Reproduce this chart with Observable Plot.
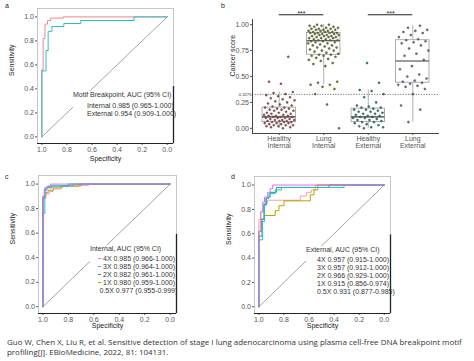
<!DOCTYPE html>
<html><head><meta charset="utf-8">
<script src="https://cdn.jsdelivr.net/npm/d3@7"></script>
<script src="https://cdn.jsdelivr.net/npm/@observablehq/plot@0.6"></script>
<style>
body{margin:0;background:#fff;}
#root{position:relative;width:474px;height:361px;overflow:hidden;font-family:"Liberation Sans",Arial,sans-serif;background:#fff;}
.panel{position:absolute;}
.panel svg{overflow:visible;}
.plab{position:absolute;font-size:7px;color:#222;line-height:7px;}
.legend{position:absolute;background:#fff;font-size:7px;color:#333;overflow:visible;white-space:nowrap;}
.legend .row{display:flex;align-items:center;}
.legend .key{display:inline-block;height:0;border-top:1.3px solid;}
.caption{position:absolute;left:7px;top:337px;font-family:"Open Sans",sans-serif;color:#333;line-height:10px;white-space:nowrap;}
</style></head>
<body><div id="root"></div>
<script>
// ---------- DATA ----------
const specTicks = [1, 0.8, 0.6, 0.4, 0.2, 0];
const sensTicks = [0, 0.2, 0.4, 0.6, 0.8, 1];
const chanceLine = [[1, 0], [0, 1]];

// Panel a: [specificity, sensitivity]
const aInternal = [[1,0],[1,0.56],[0.99,0.56],[0.99,0.82],[0.975,0.82],[0.975,0.94],[0.955,0.94],[0.955,0.97],[0.93,0.97],[0.93,0.99],[0.83,0.99],[0.83,1],[0,1]];
const aExternal = [[1,0],[1,0.55],[0.967,0.55],[0.967,0.72],[0.95,0.72],[0.95,0.88],[0.92,0.88],[0.92,0.92],[0.825,0.92],[0.825,0.945],[0.69,0.945],[0.69,0.97],[0.265,0.97],[0.265,1],[0,1]];
const aTitle = "Motif Breakpoint, AUC (95% CI)";
const aLabels = ["Internal 0.985 (0.965-1.000)", "External 0.954 (0.909-1.000)"];

// Panel b
const categories = ["Healthy\nInternal", "Lung\nInternal", "Healthy\nExternal", "Lung\nExternal"];
const healthyInternal = [0.00,0.01,0.01,0.02,0.02,0.03,0.03,0.03,0.04,0.04,0.05,0.05,0.05,0.06,0.06,0.06,0.07,0.07,
  0.07,0.08,0.08,0.08,0.09,0.09,0.10,0.10,0.10,0.11,0.11,0.11,0.12,0.12,0.12,
  0.13,0.13,0.14,0.14,0.15,0.15,0.16,0.17,0.17,0.18,0.18,0.19,0.19,0.20,0.20,0.21,
  0.22,0.23,0.24,0.25,0.26,0.27,0.28,0.29,0.30,0.31,0.32,0.33,0.34,0.35,0.43,0.45,0.69];
const lungInternal = [0.00,0.23,0.33,0.38,0.40,0.42,0.42,0.44,0.45,0.60,0.62,0.63,0.65,0.66,0.67,0.68,0.69,0.70,0.70,0.71,0.71,
  0.72,0.73,0.74,0.75,0.75,0.76,0.77,0.78,0.78,0.79,0.80,0.80,0.81,0.82,0.82,0.83,0.83,0.84,0.84,0.85,0.85,
  0.85,0.86,0.86,0.87,0.87,0.87,0.88,0.88,0.88,0.89,0.89,0.89,0.90,0.90,0.90,0.91,0.91,0.91,0.92,0.92,0.92,
  0.92,0.93,0.93,0.93,0.94,0.94,0.94,0.95,0.95,0.95,0.96,0.96,0.96,0.97,0.97,0.98,0.98,0.99,0.99,1.00,1.00];
const healthyExternal = [0.00,0.01,0.01,0.02,0.03,0.04,0.05,0.06,0.06,0.07,
  0.08,0.08,0.09,0.10,0.10,0.11,0.11,0.12,0.12,0.13,
  0.14,0.14,0.15,0.16,0.16,0.17,0.18,0.18,0.19,0.20,
  0.20,0.21,0.22,0.25,0.30,0.33,0.36,0.37,0.44,0.63];
const lungExternal = [0.99,0.97,0.95,0.94,0.93,0.92,0.90,0.88,0.86,0.85,0.84,0.83,0.82,0.80,0.77,0.75,0.72,0.70,
  0.66,0.60,0.57,0.52,0.50,0.48,0.46,0.45,0.44,0.43,0.42,0.41,0.40,0.38,0.33,0.22,0.18,0.06];
const boxQ1 = [0.06, 0.71, 0.06, 0.44];
const boxMedian = [0.11, 0.845, 0.11, 0.65];
const boxQ3 = [0.20, 0.92, 0.19, 0.85];
const whiskerLow = [0.00, 0.42, 0.00, 0.06];
const whiskerHigh = [0.35, 1.00, 0.37, 0.99];
const cutoff = 0.3275;
const scoreTicks = [0, 0.25, 0.5, 0.75, 1];
const sigPairs = [[1, 2], [3, 4]];
const sigLabel = "***";

// Panels c, d
const depthLabels = ["4X", "3X", "2X", "1X", "0.5X"];
const cTitle = "Internal, AUC (95% CI)";
const cAuc = ["0.985 (0.966-1.000)", "0.985 (0.964-1.000)", "0.982 (0.961-1.000)", "0.980 (0.959-1.000)", "0.977 (0.955-0.999)"];
const c4X = [[1,0],[1,0.9],[0.99,0.9],[0.99,0.96],[0.97,0.96],[0.97,0.98],[0.94,0.98],[0.94,1],[0,1]];
const c3X = [[1,0],[1,0.76],[0.985,0.76],[0.985,0.97],[0.96,0.97],[0.96,0.985],[0.76,0.985],[0.76,1],[0,1]];
const c2X = [[1,0],[1,0.9],[0.985,0.9],[0.985,0.95],[0.97,0.95],[0.97,0.97],[0.93,0.97],[0.93,0.985],[0.80,0.985],[0.80,1],[0,1]];
const c1X = [[1,0],[1,0.88],[0.985,0.88],[0.985,0.93],[0.96,0.93],[0.96,0.95],[0.92,0.95],[0.92,0.97],[0.85,0.97],[0.85,0.985],[0.70,0.985],[0.70,1],[0,1]];
const c05X = [[1,0],[1,0.89],[0.975,0.89],[0.975,0.92],[0.95,0.92],[0.95,0.94],[0.92,0.94],[0.92,0.96],[0.86,0.96],[0.86,0.98],[0.72,0.98],[0.72,0.99],[0.64,0.99],[0.64,1],[0,1]];
const dTitle = "External, AUC (95% CI)";
const dAuc = ["0.957 (0.915-1.000)", "0.957 (0.912-1.000)", "0.966 (0.929-1.000)", "0.915 (0.856-0.974)", "0.931 (0.877-0.985)"];
const d4X = [[1,0],[1,0.62],[0.985,0.62],[0.985,0.78],[0.97,0.78],[0.97,0.86],[0.955,0.86],[0.955,0.90],[0.93,0.90],[0.93,0.94],[0.91,0.94],[0.91,0.97],[0.89,0.97],[0.89,1],[0,1]];
const d3X = [[1,0],[1,0.55],[0.97,0.55],[0.97,0.70],[0.955,0.70],[0.955,0.83],[0.945,0.83],[0.945,0.89],[0.92,0.89],[0.92,0.93],[0.87,0.93],[0.87,0.96],[0.82,0.96],[0.82,0.98],[0.32,0.98],[0.32,1],[0,1]];
const d2X = [[1,0],[1,0.58],[0.975,0.58],[0.975,0.72],[0.96,0.72],[0.96,0.84],[0.94,0.84],[0.94,0.90],[0.91,0.90],[0.91,0.94],[0.86,0.94],[0.86,0.98],[0.44,0.98],[0.44,1],[0,1]];
const d1X = [[1,0],[1,0.62],[0.98,0.62],[0.98,0.72],[0.955,0.72],[0.955,0.75],[0.87,0.75],[0.87,0.79],[0.84,0.79],[0.84,0.83],[0.80,0.83],[0.80,0.87],[0.59,0.87],[0.59,0.92],[0.56,0.92],[0.56,0.96],[0.53,0.96],[0.53,1],[0,1]];
const d05X = [[1,0],[1,0.72],[0.985,0.72],[0.985,0.78],[0.96,0.78],[0.96,0.85],[0.93,0.85],[0.93,0.875],[0.67,0.875],[0.67,0.91],[0.62,0.91],[0.62,0.94],[0.58,0.94],[0.58,0.96],[0.55,0.96],[0.55,1],[0,1]];

const captionLines = ["Guo W, Chen X, Liu R, et al. Sensitive detection of stage I lung adenocarcinoma using plasma cell-free DNA breakpoint motif",
  "profiling[J]. EBioMedicine, 2022, 81: 104131."];

// ---------- STYLE ----------
const FONT = "Liberation Sans, Arial, sans-serif";
const cohortColors = ["#F0878A", "#2CBFC0"];
const depthColors = ["#E46CF0", "#22BFD8", "#1E9E8C", "#B3A400", "#F4A0A4"];
const pointColors = ["#A85452", "#6F7F26", "#2A817E", "#7D6795"];
const rocX = [1.035, -0.05];
const rocY = [-0.055, 1.07];
const root = document.getElementById("root");

function place(node, left, top) {
  const d = document.createElement("div");
  d.className = "panel"; d.style.left = left + "px"; d.style.top = top + "px";
  d.append(node); root.append(d);
}

function rocPanel(o) {
  return Plot.plot({
    width: o.width, height: o.height,
    marginLeft: o.ml, marginRight: o.mr, marginTop: o.mt, marginBottom: o.mb,
    style: {fontFamily: FONT, fontSize: "7px", color: "#555", background: "transparent"},
    x: {domain: rocX, ticks: specTicks, tickFormat: ".1f", tickSize: 2, tickPadding: 1.5, label: null},
    y: {domain: rocY, ticks: sensTicks, tickFormat: ".1f", tickSize: 2, tickPadding: 1.5, label: null},
    marks: [
      Plot.frame({stroke: "#b8b8b8", strokeWidth: 0.8}),
      Plot.line(chanceLine, {x: d => d[0], y: d => d[1], stroke: "#8c8c8c", strokeWidth: 0.8}),
      ...o.curves.map(c => Plot.line(c.pts, {x: d => d[0], y: d => d[1], stroke: c.color, strokeWidth: 1})),
      Plot.ruleY([rocY[0]], {stroke: "#222", strokeWidth: 1}),
      Plot.ruleX([rocX[1]], {y1: () => rocY[0], y2: () => o.darkFrom, stroke: "#222", strokeWidth: 1.3}),
      Plot.text(["Specificity"], {text: d => d, frameAnchor: "bottom", dy: o.xTitleDy, fontSize: 7, fill: "#222"}),
      Plot.text(["Sensitivity"], {text: d => d, frameAnchor: "left", dx: -26, rotate: -90, fontSize: 7, fill: "#222"})
    ]
  });
}

function addLegend(o) {
  const div = document.createElement("div");
  div.className = "legend";
  div.style.left = o.left + "px"; div.style.top = o.top + "px"; div.style.width = o.width + "px";
  const t = document.createElement("div");
  t.textContent = o.title; t.style.lineHeight = "8px"; t.style.marginBottom = o.titleGap + "px";
  div.append(t);
  o.items.forEach(it => {
    const row = document.createElement("div");
    row.className = "row"; row.style.paddingLeft = o.indent + "px"; row.style.height = o.rowH + "px";
    const k = document.createElement("span");
    k.className = "key"; k.style.borderTopColor = it.color; k.style.width = o.keyW + "px"; k.style.marginRight = o.gap + "px";
    const s = document.createElement("span"); s.textContent = it.label;
    row.append(k, s); div.append(row);
  });
  root.append(div);
}

// ---------- PANEL A ----------
place(rocPanel({
  width: 218, height: 168, ml: 37, mr: 45, mt: 8, mb: 25, xTitleDy: 17, darkFrom: 0.42,
  curves: [{pts: aInternal, color: cohortColors[0]}, {pts: aExternal, color: cohortColors[1]}]
}), 0, 0);
addLegend({left: 73, top: 91, width: 99, title: aTitle, titleGap: 2, indent: 11, keyW: 8, gap: 3, rowH: 8.5,
  items: aLabels.map((l, i) => ({label: l, color: cohortColors[i]}))});

// ---------- PANEL B ----------
const points = [healthyInternal, lungInternal, healthyExternal, lungExternal].flatMap((vals, g) =>
  vals.map((v, i) => ({g: g + 1, v, j: ((((i + 1) * 0.6180339887 + g * 0.37) % 1) - 0.5) * 0.7})));
const boxes = categories.map((c, k) => ({g: k + 1, q1: boxQ1[k], med: boxMedian[k], q3: boxQ3[k], lo: whiskerLow[k], hi: whiskerHigh[k]}));
const bX = [0.4, 4.6], bY = [-0.05, 1.05], sigY = 1.096, halfBox = 0.375;
place(Plot.plot({
  width: 256, height: 160, marginLeft: 34, marginRight: 35, marginTop: 19, marginBottom: 27,
  style: {fontFamily: FONT, fontSize: "7px", color: "#555", background: "transparent"},
  color: {type: "identity"},
  x: {domain: bX, ticks: [1, 2, 3, 4], tickFormat: () => "", tickSize: 2, label: null},
  y: {domain: bY, ticks: scoreTicks, tickFormat: ".2f", tickSize: 2, tickPadding: 1.5, label: null},
  marks: [
    Plot.ruleY([cutoff], {stroke: "#555", strokeDasharray: "1.2,1.4", strokeWidth: 0.8}),
    Plot.ruleX(boxes, {x: "g", y1: "lo", y2: "hi", stroke: "#9a9a9a", strokeWidth: 0.8}),
    Plot.rect(boxes, {x1: d => d.g - halfBox, x2: d => d.g + halfBox, y1: "q1", y2: "q3", fill: "#fff", stroke: "#9a9a9a", strokeWidth: 0.8}),
    Plot.ruleY(boxes, {x1: d => d.g - halfBox, x2: d => d.g + halfBox, y: "med", stroke: "#3a3a3a", strokeWidth: 1.1}),
    Plot.dot(points, {x: d => d.g + d.j, y: "v", r: 1.05, fill: d => pointColors[d.g - 1], stroke: "#2a2a2a", strokeWidth: 0.35}),
    Plot.ruleX([bX[0]], {stroke: "#333", strokeWidth: 0.9}),
    Plot.ruleY([bY[0]], {stroke: "#333", strokeWidth: 0.9}),
    Plot.ruleY(sigPairs, {x1: d => d[0], x2: d => d[1], y: () => sigY, stroke: "#222", strokeWidth: 1.1}),
    Plot.text(sigPairs, {x: d => (d[0] + d[1]) / 2, y: () => sigY, text: () => sigLabel, lineAnchor: "bottom", dy: 1.5, fontSize: 7, fill: "#222"}),
    Plot.text([cutoff], {y: d => d, text: d => String(d), frameAnchor: "left", textAnchor: "end", dx: -1, fontSize: 4.2, fill: "#333"}),
    Plot.text(categories, {x: (d, i) => i + 1, text: d => d, frameAnchor: "bottom", lineAnchor: "top", dy: 3, fontSize: 7, fill: "#555"}),
    Plot.text(["Cancer score"], {text: d => d, frameAnchor: "left", dx: -20, rotate: -90, fontSize: 7, fill: "#222"})
  ]
}), 218, 0);

// ---------- PANEL C ----------
const cCurves = [c4X, c3X, c2X, c1X, c05X];
place(rocPanel({
  width: 218, height: 165, ml: 38, mr: 42, mt: 5, mb: 22, xTitleDy: 14, darkFrom: 0.59,
  curves: cCurves.map((pts, i) => ({pts, color: depthColors[i]})).reverse()
}), 0, 170);
addLegend({left: 90, top: 245, width: 85, title: cTitle, titleGap: 1.2, indent: 7.5, keyW: 8, gap: 2, rowH: 8.1,
  items: depthLabels.map((l, i) => ({label: l + " " + cAuc[i], color: depthColors[i]}))});

// ---------- PANEL D ----------
const dCurves = [d4X, d3X, d2X, d1X, d05X];
place(rocPanel({
  width: 256, height: 165, ml: 36, mr: 84, mt: 6, mb: 22, xTitleDy: 14, darkFrom: 0.59,
  curves: dCurves.map((pts, i) => ({pts, color: depthColors[i]})).reverse()
}), 218, 170);
addLegend({left: 306, top: 246, width: 83, title: dTitle, titleGap: 1.2, indent: 6, keyW: 7, gap: 5, rowH: 8.1,
  items: depthLabels.map((l, i) => ({label: l + " " + dAuc[i], color: depthColors[i]}))});

// ---------- PANEL LABELS & CAPTION ----------
[["a", 5, 2], ["b", 221, 2], ["c", 5, 173], ["d", 231, 173]].forEach(([t, x, y]) => {
  const s = document.createElement("div"); s.className = "plab"; s.textContent = t;
  s.style.left = x + "px"; s.style.top = y + "px"; root.append(s);
});
const cap = document.createElement("div"); cap.className = "caption";
const ctx = document.createElement("canvas").getContext("2d");
ctx.font = '10px "Open Sans"';
const capSize = 10 * 455 / ctx.measureText(captionLines[0]).width;
cap.style.fontSize = capSize.toFixed(2) + "px";
captionLines.forEach(l => { const d = document.createElement("div"); d.textContent = l; cap.append(d); });
root.append(cap);
</script></body></html>
